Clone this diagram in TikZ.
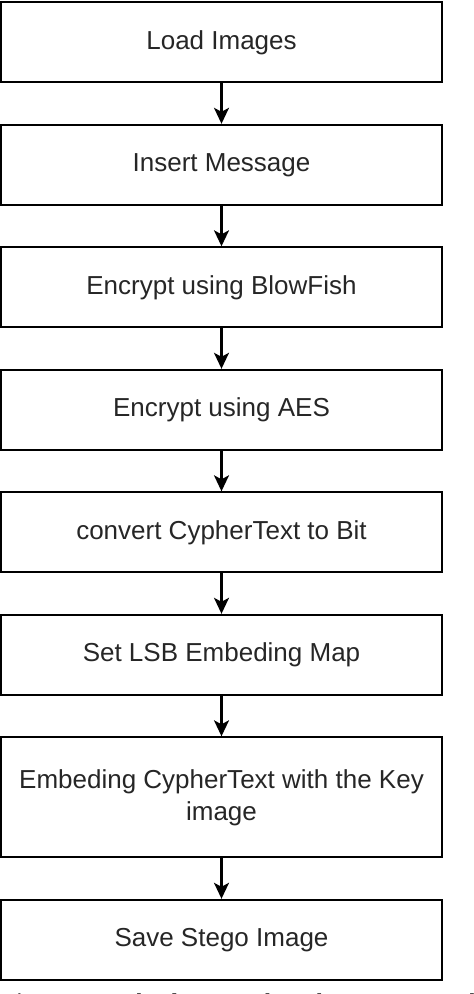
\documentclass[tikz,border=0pt]{standalone}
\usepackage{fontspec}
\setmainfont{Liberation Sans}
\newfontfamily\capfont{Liberation Serif}
\usetikzlibrary{positioning,arrows.meta}

\begin{document}
\begin{tikzpicture}[x=1pt,y=1pt,
  stepbox/.style={draw,line width=2pt,minimum width=441pt,minimum height=80pt,
    align=center,inner sep=0pt,text=black!85,font=\fontsize{26}{32}\selectfont},
  flow/.style={-{Stealth[length=16pt,width=15pt,inset=4pt]},line width=2.2pt},
  node distance=40.5pt]
  \useasboundingbox (0,0) rectangle (474,-994);

  % Steps
  \node[stepbox,anchor=north] (load) at (221.5,-1.3) {Load Images};
  \node[stepbox,below=of load] (insert) {Insert Message};
  \node[stepbox,below=of insert] (blowfish) {Encrypt using BlowFish};
  \node[stepbox,below=of blowfish] (aes) {Encrypt using AES};
  \node[stepbox,below=of aes] (tobit) {convert CypherText to Bit};
  \node[stepbox,below=of tobit] (lsbmap) {Set LSB Embeding Map};
  \node[stepbox,below=of lsbmap,minimum height=120pt] (embed) {Embeding CypherText with the Key\\image};
  \node[stepbox,below=of embed] (save) {Save Stego Image};

  % Arrows
  \foreach \a/\b in {load/insert,insert/blowfish,blowfish/aes,aes/tobit,
                     tobit/lsbmap,lsbmap/embed,embed/save}
    \draw[flow] (\a) -- (\b);

  % Caption (cut off at the bottom)
  \node[anchor=base west,inner sep=0pt,font=\capfont\fontsize{25.5}{30}\selectfont]
    (caption) at (0,-1011) {\textbf{Figure 2.} Hybrid approach with LSB approach};
\end{tikzpicture}
\end{document}
